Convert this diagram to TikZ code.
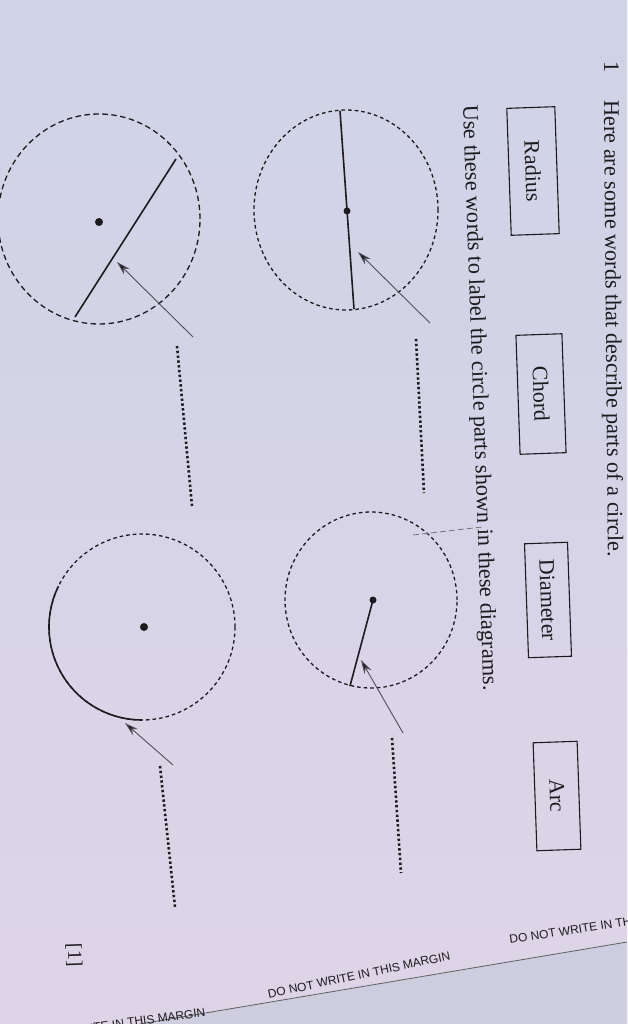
\documentclass[tikz,border=0pt]{standalone}
\usepackage{fontspec}
\setmainfont{Liberation Serif}
\newfontfamily\marginfont{Liberation Sans}
\usetikzlibrary{arrows.meta}
\definecolor{pagetop}{RGB}{207,211,230}
\definecolor{pagemid}{RGB}{224,221,238}
\definecolor{pagebot}{RGB}{222,212,231}
\definecolor{under}{RGB}{206,205,224}
\definecolor{ink}{RGB}{28,28,32}
\definecolor{arrowink}{RGB}{80,80,88}
\begin{document}
\begin{tikzpicture}[x=1pt,y=1pt,
  qtext/.style={font=\fontsize{22.3}{26}\selectfont, text=ink, inner sep=0pt, anchor=base west},
  wordbox/.style={draw=ink, line width=1.1pt, font=\fontsize{22}{24}\selectfont, text=ink, rotate=-88, inner sep=0pt},
  dashcircle/.style={draw=ink, line width=1.3pt, dash pattern=on 3.6pt off 3pt},
  longdash/.style={draw=ink, line width=1.3pt, dash pattern=on 5.5pt off 3.5pt},
  partline/.style={draw=ink, line width=1.6pt},
  centredot/.style={circle, fill=ink, inner sep=0pt, minimum size=8pt},
  pointer/.style={draw=arrowink, line width=0.9pt, -{Stealth[length=14pt, width=8pt, fill=ink]}},
  answerline/.style={draw=ink, line width=2.6pt, dash pattern=on 2.4pt off 2.4pt},
  margintext/.style={font=\marginfont\fontsize{12}{14}\selectfont, text=ink, inner sep=0pt}
]
\useasboundingbox (0,0) rectangle (627,-1024);
\clip (0,0) rectangle (627,-1024);
% page
\shade[top color=pagetop, middle color=pagemid, bottom color=pagebot] (0,0) rectangle (627,-1024);
\fill[under] (140,-1024) -- (627,-942) -- (627,-1024) -- cycle;
\draw[ink!70, line width=0.8pt] (140,-1024) -- (627,-942);

% question text
\node[qtext, rotate=-89.5] (qnum) at (604,-61) {1};
\node[qtext, rotate=-89.5] (qline) at (604,-100) {Here are some words that describe parts of a circle.};
\node[qtext, rotate=-88] (instr) at (463,-105) {Use these words to label the circle parts shown in these diagrams.};

% word boxes
\node[wordbox, minimum width=127pt, minimum height=48pt] (radius) at (533,-171) {Radius};
\node[wordbox, minimum width=119pt, minimum height=46pt] (chord) at (541,-394) {Chord};
\node[wordbox, minimum width=114pt, minimum height=43pt] (diameter) at (548,-600) {Diameter};
\node[wordbox, minimum width=108pt, minimum height=44pt] (arc) at (557,-796) {Arc};

% circle 1 : chord
\coordinate (c1) at (99,-219);
\draw[longdash] (c1) ellipse [x radius=101, y radius=105];
\node[centredot] (d1) at (99,-222) {};
\coordinate (ch1) at (176,-159);
\coordinate (ch2) at (75,-317);
\draw[partline] (ch1) -- (ch2);
\coordinate (a1s) at (193,-337);
\coordinate (a1e) at (117,-262);
\draw[pointer] (a1s) -- (a1e);
\coordinate (l1s) at (177,-346);
\coordinate (l1e) at (192,-506);
\draw[answerline] (l1s) -- (l1e);

% circle 2 : diameter
\coordinate (c2) at (346,-210);
\draw[dashcircle] (c2) ellipse [x radius=92, y radius=100];
\coordinate (dm1) at (340,-111);
\coordinate (dm2) at (354,-309);
\draw[partline] (dm1) -- (dm2);
\node[centredot, minimum size=7pt] (d2) at (347,-211) {};
\coordinate (a2s) at (430,-323);
\coordinate (a2e) at (358,-252);
\draw[pointer] (a2s) -- (a2e);
\coordinate (l2s) at (416,-339);
\coordinate (l2e) at (424,-493);
\draw[answerline] (l2s) -- (l2e);

% circle 3 : arc
\coordinate (c3) at (142,-627);
\draw[dashcircle] (c3) circle [radius=93];
\node[centredot] (d3) at (144,-627) {};
\draw[partline] (c3) ++(154:93) arc[start angle=154, end angle=270, radius=93];
\coordinate (a3s) at (173,-765);
\coordinate (a3e) at (125,-723);
\draw[pointer] (a3s) -- (a3e);
\coordinate (l3s) at (160,-766);
\coordinate (l3e) at (175,-907);
\draw[answerline] (l3s) -- (l3e);

% circle 4 : radius
\coordinate (c4) at (371,-600);
\draw[dashcircle] (c4) ellipse [x radius=86, y radius=88];
\node[centredot, minimum size=7pt] (d4) at (373,-600) {};
\coordinate (rd2) at (350,-686);
\draw[partline] (d4.center) -- (rd2);
\coordinate (a4s) at (403,-733);
\coordinate (a4e) at (361,-660);
\draw[pointer] (a4s) -- (a4e);
\coordinate (l4s) at (392,-738);
\coordinate (l4e) at (401,-873);
\draw[answerline] (l4s) -- (l4e);

% stray pencil mark
\draw[arrowink!80, line width=0.8pt, dash pattern=on 6pt off 3pt] (413,-535) -- (482,-527);

% mark
\node[font=\fontsize{20}{22}\selectfont, text=ink, rotate=-88, inner sep=0pt] (mark) at (74,-955) {[1]};

% margin notes
\node[margintext, rotate=8, anchor=base east] (m1) at (206,-1016) {DO NOT WRITE IN THIS MARGIN};
\node[margintext, rotate=12] (m2) at (359,-975) {DO NOT WRITE IN THIS MARGIN};
\node[margintext, rotate=9, anchor=base west] (m3) at (510,-944) {DO NOT WRITE IN THIS MARGIN};
\end{tikzpicture}
\end{document}
